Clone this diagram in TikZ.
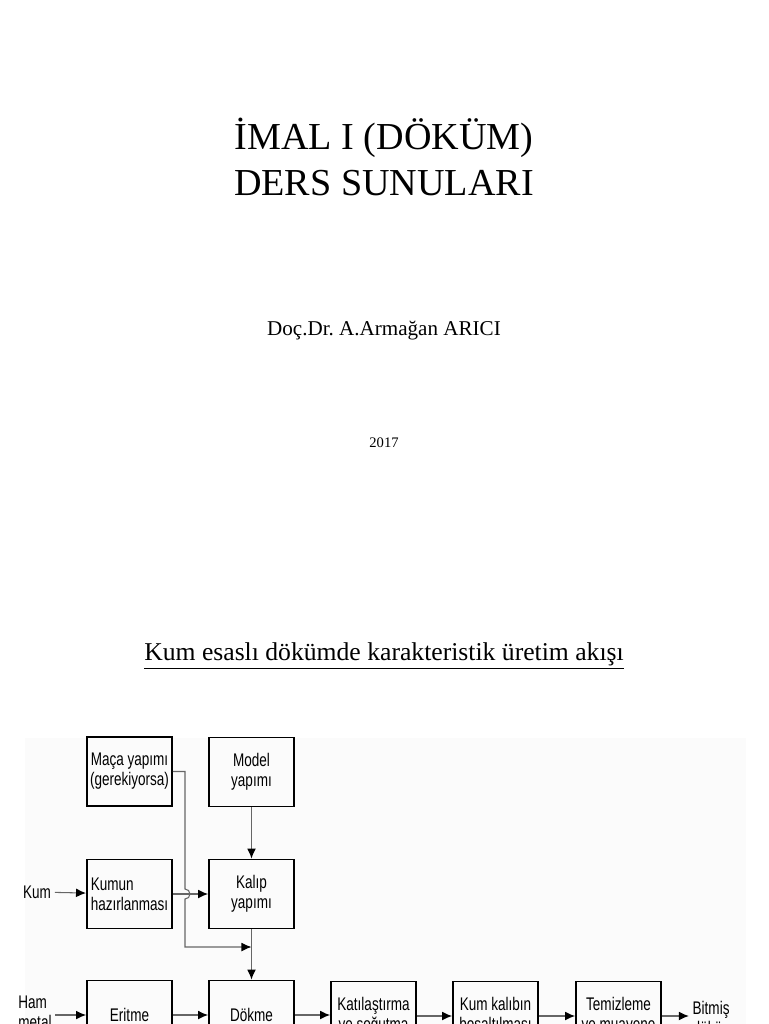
\documentclass[tikz,border=0pt]{standalone}
\usepackage{fontspec}
\setmainfont{Liberation Serif}
\newfontfamily\diagfont[FakeStretch=0.74]{Liberation Sans}
\usetikzlibrary{arrows.meta}
\definecolor{flow_gray}{rgb}{.4,.4,.4}
\definecolor{panel_white}{rgb}{.985,.985,.985}
\frenchspacing

\begin{document}
\begin{tikzpicture}[x=0.02cm, y=-0.02cm,
    stage/.style={draw, line width=1.1pt, minimum width=1.7cm, minimum height=1.38cm,
      align=center, inner sep=1pt, font=\diagfont\fontsize{10.4}{11.4}\selectfont},
    plain_txt/.style={align=left, inner sep=2pt, font=\diagfont\fontsize{10.4}{11.4}\selectfont},
    flow/.style={flow_gray, line width=0.6pt, -{Latex[black, length=5.7pt, width=5pt]}}]
    % Page: 768 x 1024 px
    \useasboundingbox (0,0) rectangle (768,1024);
    \clip (0,0) rectangle (768,1024);
    \fill[white] (0,0) rectangle (768,1024);

    % Title block
    \node[font=\fontsize{21.7}{26}\selectfont] (title_a) at (384,138) {İMAL I (DÖKÜM)};
    \node[font=\fontsize{21.7}{26}\selectfont] (title_b) at (384,183) {DERS SUNULARI};
    \node[font=\fontsize{12}{14}\selectfont] (author) at (384,331) {Doç.Dr. A.Armağan ARICI};
    \node[font=\fontsize{8.3}{10}\selectfont] (year) at (384,443) {2017};
    \node[font=\fontsize{14.6}{17}\selectfont] (subtitle) at (384,656)
      {\underline{Kum esaslı dökümde karakteristik üretim akışı}};

    % Diagram panel
    \fill[panel_white] (25,738) rectangle (746,1024);

    % Upper stages
    \node[stage] (maca) at (129.5,771.5) {Maça yapımı\\(gerekiyorsa)};
    \node[stage] (model) at (251.5,772) {Model\\yapımı};
    \node[stage, align=left] (kumun) at (129.5,894) {Kumun\\hazırlanması};
    \node[stage] (kalip) at (251.5,894) {Kalıp\\yapımı};

    % Main line
    \node[stage] (eritme) at (129.5,1015) {Eritme};
    \node[stage] (dokme) at (251.5,1015) {Dökme};
    \node[stage] (katilas) at (373.5,1016) {Katılaştırma\\ve soğutma};
    \node[stage] (bosalt) at (495.5,1016) {Kum kalıbın\\boşaltılması};
    \node[stage] (temiz) at (618.5,1016) {Temizleme\\ve muayene};

    % Inputs and output
    \node[plain_txt] (kum) at (37,892) {Kum};
    \node[plain_txt] (ham) at (35,1012) {Ham\\metal};
    \node[plain_txt] (bitmis) at (713,1018) {Bitmiş\\döküm};
    \coordinate (merge) at (251.5,947);

    % Connectors
    \draw[flow] (model) -- (kalip);
    \draw[flow] (kum) -- (kumun);
    \draw[flow] (kumun) -- (kalip);
    \draw[flow] (maca.east) -- (185,771.5) -- (185,889)
      arc[start angle=-90, end angle=90, radius=5] -- (185,947) -- (merge);
    \draw[flow] (kalip) -- (dokme);
    \draw[flow] (ham.east |- eritme) -- (eritme);
    \draw[flow] (eritme) -- (dokme);
    \draw[flow] (dokme) -- (katilas.west |- dokme);
    \draw[flow] (katilas) -- (bosalt);
    \draw[flow] (bosalt) -- (temiz);
    \draw[flow] (temiz) -- (bitmis.west |- temiz);
\end{tikzpicture}
\end{document}
